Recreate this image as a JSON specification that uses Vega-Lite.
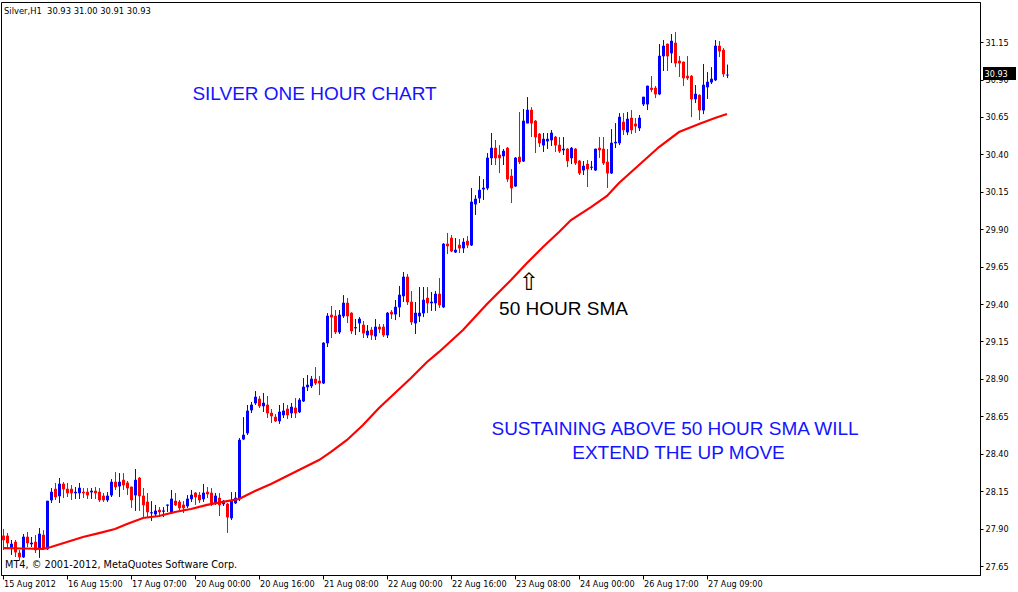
{
  "$schema": "https://vega.github.io/schema/vega-lite/v6.json",
  "width": 979,
  "height": 573,
  "autosize": "none",
  "padding": {"left": 1, "top": 2, "right": 38, "bottom": 17},
  "background": "white",
  "config": {
    "view": {"stroke": "#000000", "strokeWidth": 1},
    "scale": {"continuousPadding": 0},
    "axisX": {
      "labelAlign": "left", "labelBaseline": "top", "labelPadding": 0, "labelOffset": 0.5,
      "labelFont": "DejaVu Sans Condensed, DejaVu Sans", "labelFontSize": 9, "labelColor": "#000000",
      "labelOverlap": false, "labelFlush": false, "tickSize": 4, "tickColor": "#000000",
      "domainColor": "#000000", "grid": false
    },
    "axisY": {
      "labelAlign": "left", "labelBaseline": "middle", "labelPadding": 2,
      "labelFont": "DejaVu Sans Condensed, DejaVu Sans", "labelFontSize": 9, "labelColor": "#000000",
      "labelOverlap": false, "labelFlush": false, "tickSize": 3, "tickColor": "#000000",
      "domainColor": "#000000", "grid": false
    }
  },
  "datasets": {
    "bars": [
      {"i":0,"o":27.851,"h":27.897,"l":27.757,"c":27.824},
      {"i":1,"o":27.851,"h":27.871,"l":27.770,"c":27.804},
      {"i":2,"o":27.770,"h":27.824,"l":27.724,"c":27.797},
      {"i":3,"o":27.810,"h":27.824,"l":27.710,"c":27.743},
      {"i":4,"o":27.737,"h":27.757,"l":27.690,"c":27.710},
      {"i":5,"o":27.710,"h":27.864,"l":27.704,"c":27.844},
      {"i":6,"o":27.844,"h":27.877,"l":27.777,"c":27.804},
      {"i":7,"o":27.797,"h":27.844,"l":27.777,"c":27.804},
      {"i":8,"o":27.810,"h":27.857,"l":27.737,"c":27.757},
      {"i":9,"o":27.770,"h":27.904,"l":27.704,"c":27.864},
      {"i":10,"o":27.857,"h":27.890,"l":27.757,"c":27.770},
      {"i":11,"o":27.764,"h":28.084,"l":27.757,"c":28.084},
      {"i":12,"o":28.091,"h":28.171,"l":28.071,"c":28.144},
      {"i":13,"o":28.164,"h":28.205,"l":28.091,"c":28.111},
      {"i":14,"o":28.118,"h":28.238,"l":28.071,"c":28.198},
      {"i":15,"o":28.198,"h":28.211,"l":28.104,"c":28.164},
      {"i":16,"o":28.164,"h":28.205,"l":28.111,"c":28.138},
      {"i":17,"o":28.164,"h":28.191,"l":28.091,"c":28.138},
      {"i":18,"o":28.138,"h":28.178,"l":28.098,"c":28.144},
      {"i":19,"o":28.138,"h":28.205,"l":28.098,"c":28.171},
      {"i":20,"o":28.144,"h":28.171,"l":28.104,"c":28.138},
      {"i":21,"o":28.144,"h":28.171,"l":28.098,"c":28.124},
      {"i":22,"o":28.144,"h":28.171,"l":28.098,"c":28.151},
      {"i":23,"o":28.151,"h":28.178,"l":28.098,"c":28.138},
      {"i":24,"o":28.144,"h":28.171,"l":28.078,"c":28.091},
      {"i":25,"o":28.118,"h":28.138,"l":28.078,"c":28.091},
      {"i":26,"o":28.091,"h":28.144,"l":28.078,"c":28.118},
      {"i":27,"o":28.124,"h":28.231,"l":28.111,"c":28.211},
      {"i":28,"o":28.211,"h":28.278,"l":28.158,"c":28.178},
      {"i":29,"o":28.184,"h":28.271,"l":28.111,"c":28.211},
      {"i":30,"o":28.224,"h":28.271,"l":28.158,"c":28.191},
      {"i":31,"o":28.205,"h":28.218,"l":28.124,"c":28.171},
      {"i":32,"o":28.178,"h":28.180,"l":28.038,"c":28.091},
      {"i":33,"o":28.124,"h":28.298,"l":28.018,"c":28.224},
      {"i":34,"o":28.238,"h":28.245,"l":28.018,"c":28.118},
      {"i":35,"o":28.118,"h":28.171,"l":27.977,"c":28.058},
      {"i":36,"o":28.078,"h":28.138,"l":27.977,"c":28.011},
      {"i":37,"o":28.004,"h":28.084,"l":27.951,"c":28.006},
      {"i":38,"o":27.997,"h":28.058,"l":27.984,"c":28.018},
      {"i":39,"o":28.024,"h":28.044,"l":27.977,"c":28.011},
      {"i":40,"o":28.016,"h":28.044,"l":27.977,"c":28.018},
      {"i":41,"o":28.056,"h":28.058,"l":28.011,"c":28.058},
      {"i":42,"o":28.004,"h":28.158,"l":27.997,"c":28.098},
      {"i":43,"o":28.084,"h":28.138,"l":28.051,"c":28.058},
      {"i":44,"o":28.078,"h":28.091,"l":28.024,"c":28.038},
      {"i":45,"o":28.058,"h":28.084,"l":28.004,"c":28.038},
      {"i":46,"o":28.051,"h":28.124,"l":28.038,"c":28.098},
      {"i":47,"o":28.098,"h":28.158,"l":28.078,"c":28.124},
      {"i":48,"o":28.138,"h":28.144,"l":28.058,"c":28.111},
      {"i":49,"o":28.124,"h":28.144,"l":28.071,"c":28.091},
      {"i":50,"o":28.098,"h":28.198,"l":28.078,"c":28.138},
      {"i":51,"o":28.144,"h":28.178,"l":28.104,"c":28.131},
      {"i":52,"o":28.138,"h":28.171,"l":28.051,"c":28.071},
      {"i":53,"o":28.071,"h":28.138,"l":28.058,"c":28.118},
      {"i":54,"o":28.104,"h":28.138,"l":27.984,"c":28.058},
      {"i":55,"o":28.064,"h":28.091,"l":28.051,"c":28.084},
      {"i":56,"o":28.064,"h":28.071,"l":27.871,"c":27.977},
      {"i":57,"o":27.971,"h":28.144,"l":27.957,"c":28.084},
      {"i":58,"o":28.071,"h":28.144,"l":28.064,"c":28.104},
      {"i":59,"o":28.098,"h":28.505,"l":28.084,"c":28.491},
      {"i":60,"o":28.498,"h":28.645,"l":28.491,"c":28.525},
      {"i":61,"o":28.539,"h":28.726,"l":28.525,"c":28.686},
      {"i":62,"o":28.692,"h":28.746,"l":28.672,"c":28.726},
      {"i":63,"o":28.739,"h":28.819,"l":28.726,"c":28.779},
      {"i":64,"o":28.766,"h":28.786,"l":28.706,"c":28.719},
      {"i":65,"o":28.719,"h":28.806,"l":28.679,"c":28.739},
      {"i":66,"o":28.726,"h":28.786,"l":28.639,"c":28.672},
      {"i":67,"o":28.672,"h":28.699,"l":28.605,"c":28.652},
      {"i":68,"o":28.645,"h":28.665,"l":28.612,"c":28.619},
      {"i":69,"o":28.619,"h":28.726,"l":28.599,"c":28.679},
      {"i":70,"o":28.659,"h":28.739,"l":28.639,"c":28.686},
      {"i":71,"o":28.699,"h":28.726,"l":28.632,"c":28.659},
      {"i":72,"o":28.672,"h":28.739,"l":28.639,"c":28.712},
      {"i":73,"o":28.706,"h":28.772,"l":28.639,"c":28.672},
      {"i":74,"o":28.679,"h":28.772,"l":28.672,"c":28.759},
      {"i":75,"o":28.752,"h":28.906,"l":28.746,"c":28.846},
      {"i":76,"o":28.846,"h":28.926,"l":28.819,"c":28.859},
      {"i":77,"o":28.853,"h":28.919,"l":28.839,"c":28.899},
      {"i":78,"o":28.899,"h":28.979,"l":28.859,"c":28.872},
      {"i":79,"o":28.886,"h":28.919,"l":28.792,"c":28.872},
      {"i":80,"o":28.872,"h":29.145,"l":28.866,"c":29.140},
      {"i":81,"o":29.140,"h":29.340,"l":29.113,"c":29.320},
      {"i":82,"o":29.327,"h":29.387,"l":29.173,"c":29.313},
      {"i":83,"o":29.320,"h":29.360,"l":29.200,"c":29.213},
      {"i":84,"o":29.213,"h":29.360,"l":29.200,"c":29.327},
      {"i":85,"o":29.320,"h":29.460,"l":29.307,"c":29.407},
      {"i":86,"o":29.407,"h":29.440,"l":29.273,"c":29.320},
      {"i":87,"o":29.340,"h":29.345,"l":29.200,"c":29.220},
      {"i":88,"o":29.240,"h":29.300,"l":29.193,"c":29.243},
      {"i":89,"o":29.273,"h":29.313,"l":29.213,"c":29.300},
      {"i":90,"o":29.260,"h":29.287,"l":29.173,"c":29.206},
      {"i":91,"o":29.193,"h":29.260,"l":29.173,"c":29.220},
      {"i":92,"o":29.227,"h":29.247,"l":29.160,"c":29.193},
      {"i":93,"o":29.186,"h":29.300,"l":29.160,"c":29.247},
      {"i":94,"o":29.247,"h":29.267,"l":29.206,"c":29.233},
      {"i":95,"o":29.247,"h":29.267,"l":29.180,"c":29.193},
      {"i":96,"o":29.193,"h":29.347,"l":29.173,"c":29.340},
      {"i":97,"o":29.347,"h":29.360,"l":29.300,"c":29.333},
      {"i":98,"o":29.333,"h":29.427,"l":29.293,"c":29.380},
      {"i":99,"o":29.380,"h":29.521,"l":29.313,"c":29.460},
      {"i":100,"o":29.454,"h":29.614,"l":29.414,"c":29.581},
      {"i":101,"o":29.581,"h":29.601,"l":29.394,"c":29.414},
      {"i":102,"o":29.414,"h":29.487,"l":29.260,"c":29.280},
      {"i":103,"o":29.273,"h":29.414,"l":29.200,"c":29.340},
      {"i":104,"o":29.320,"h":29.514,"l":29.280,"c":29.340},
      {"i":105,"o":29.340,"h":29.514,"l":29.313,"c":29.427},
      {"i":106,"o":29.440,"h":29.514,"l":29.340,"c":29.407},
      {"i":107,"o":29.407,"h":29.481,"l":29.354,"c":29.414},
      {"i":108,"o":29.407,"h":29.487,"l":29.354,"c":29.467},
      {"i":109,"o":29.467,"h":29.574,"l":29.374,"c":29.394},
      {"i":110,"o":29.380,"h":29.807,"l":29.374,"c":29.801},
      {"i":111,"o":29.801,"h":29.875,"l":29.734,"c":29.788},
      {"i":112,"o":29.841,"h":29.861,"l":29.747,"c":29.754},
      {"i":113,"o":29.747,"h":29.841,"l":29.741,"c":29.761},
      {"i":114,"o":29.794,"h":29.834,"l":29.741,"c":29.774},
      {"i":115,"o":29.774,"h":29.841,"l":29.741,"c":29.814},
      {"i":116,"o":29.821,"h":29.854,"l":29.774,"c":29.794},
      {"i":117,"o":29.794,"h":30.175,"l":29.788,"c":30.082},
      {"i":118,"o":30.068,"h":30.128,"l":29.995,"c":30.102},
      {"i":119,"o":30.108,"h":30.255,"l":30.075,"c":30.161},
      {"i":120,"o":30.168,"h":30.235,"l":30.095,"c":30.175},
      {"i":121,"o":30.175,"h":30.409,"l":30.161,"c":30.376},
      {"i":122,"o":30.376,"h":30.543,"l":30.329,"c":30.442},
      {"i":123,"o":30.442,"h":30.496,"l":30.329,"c":30.376},
      {"i":124,"o":30.396,"h":30.462,"l":30.275,"c":30.376},
      {"i":125,"o":30.389,"h":30.436,"l":30.329,"c":30.422},
      {"i":126,"o":30.442,"h":30.449,"l":30.215,"c":30.235},
      {"i":127,"o":30.255,"h":30.302,"l":30.075,"c":30.175},
      {"i":128,"o":30.188,"h":30.382,"l":30.182,"c":30.376},
      {"i":129,"o":30.382,"h":30.683,"l":30.335,"c":30.349},
      {"i":130,"o":30.355,"h":30.703,"l":30.349,"c":30.623},
      {"i":131,"o":30.609,"h":30.783,"l":30.609,"c":30.696},
      {"i":132,"o":30.696,"h":30.716,"l":30.516,"c":30.609},
      {"i":133,"o":30.623,"h":30.630,"l":30.409,"c":30.516},
      {"i":134,"o":30.536,"h":30.543,"l":30.449,"c":30.476},
      {"i":135,"o":30.462,"h":30.543,"l":30.416,"c":30.502},
      {"i":136,"o":30.489,"h":30.543,"l":30.436,"c":30.502},
      {"i":137,"o":30.496,"h":30.563,"l":30.456,"c":30.543},
      {"i":138,"o":30.516,"h":30.523,"l":30.416,"c":30.462},
      {"i":139,"o":30.462,"h":30.516,"l":30.409,"c":30.422},
      {"i":140,"o":30.429,"h":30.516,"l":30.396,"c":30.436},
      {"i":141,"o":30.436,"h":30.442,"l":30.315,"c":30.356},
      {"i":142,"o":30.376,"h":30.449,"l":30.335,"c":30.442},
      {"i":143,"o":30.436,"h":30.442,"l":30.329,"c":30.342},
      {"i":144,"o":30.356,"h":30.362,"l":30.262,"c":30.275},
      {"i":145,"o":30.295,"h":30.356,"l":30.262,"c":30.322},
      {"i":146,"o":30.335,"h":30.362,"l":30.182,"c":30.302},
      {"i":147,"o":30.313,"h":30.356,"l":30.295,"c":30.315},
      {"i":148,"o":30.295,"h":30.436,"l":30.289,"c":30.436},
      {"i":149,"o":30.442,"h":30.516,"l":30.376,"c":30.429},
      {"i":150,"o":30.436,"h":30.516,"l":30.329,"c":30.342},
      {"i":151,"o":30.349,"h":30.436,"l":30.175,"c":30.275},
      {"i":152,"o":30.275,"h":30.569,"l":30.269,"c":30.476},
      {"i":153,"o":30.476,"h":30.609,"l":30.442,"c":30.482},
      {"i":154,"o":30.476,"h":30.676,"l":30.462,"c":30.649},
      {"i":155,"o":30.616,"h":30.676,"l":30.529,"c":30.563},
      {"i":156,"o":30.549,"h":30.683,"l":30.529,"c":30.636},
      {"i":157,"o":30.643,"h":30.696,"l":30.536,"c":30.563},
      {"i":158,"o":30.603,"h":30.643,"l":30.543,"c":30.589},
      {"i":159,"o":30.576,"h":30.663,"l":30.556,"c":30.643},
      {"i":160,"o":30.736,"h":30.783,"l":30.723,"c":30.783},
      {"i":161,"o":30.736,"h":30.857,"l":30.696,"c":30.857},
      {"i":162,"o":30.843,"h":30.923,"l":30.816,"c":30.833},
      {"i":163,"o":30.843,"h":30.857,"l":30.776,"c":30.803},
      {"i":164,"o":30.803,"h":31.137,"l":30.796,"c":31.057},
      {"i":165,"o":31.057,"h":31.164,"l":30.957,"c":31.124},
      {"i":166,"o":31.137,"h":31.140,"l":30.957,"c":31.057},
      {"i":167,"o":31.077,"h":31.204,"l":31.010,"c":31.157},
      {"i":168,"o":31.144,"h":31.217,"l":30.983,"c":31.010},
      {"i":169,"o":31.024,"h":31.057,"l":30.917,"c":31.010},
      {"i":170,"o":31.017,"h":31.020,"l":30.857,"c":30.910},
      {"i":171,"o":30.923,"h":31.057,"l":30.897,"c":30.910},
      {"i":172,"o":30.923,"h":30.930,"l":30.649,"c":30.770},
      {"i":173,"o":30.770,"h":30.863,"l":30.743,"c":30.803},
      {"i":174,"o":30.796,"h":30.800,"l":30.629,"c":30.696},
      {"i":175,"o":30.696,"h":31.004,"l":30.669,"c":30.863},
      {"i":176,"o":30.850,"h":30.950,"l":30.770,"c":30.883},
      {"i":177,"o":30.883,"h":30.983,"l":30.870,"c":30.903},
      {"i":178,"o":30.897,"h":31.164,"l":30.890,"c":31.124},
      {"i":179,"o":31.124,"h":31.157,"l":31.050,"c":31.090},
      {"i":180,"o":31.097,"h":31.110,"l":30.917,"c":30.937},
      {"i":181,"o":30.93,"h":31.00,"l":30.91,"c":30.93}
    ],
    "sma": [
      {"i":0,"s":27.770},{"i":5,"s":27.767},{"i":10,"s":27.764},{"i":12,"s":27.777},
      {"i":16,"s":27.810},{"i":20,"s":27.844},{"i":24,"s":27.870},{"i":28,"s":27.897},
      {"i":31,"s":27.931},{"i":35,"s":27.971},{"i":39,"s":27.984},{"i":43,"s":28.011},
      {"i":47,"s":28.031},{"i":51,"s":28.058},{"i":55,"s":28.078},{"i":59,"s":28.098},
      {"i":63,"s":28.151},{"i":67,"s":28.198},{"i":71,"s":28.251},{"i":75,"s":28.305},
      {"i":79,"s":28.358},{"i":82,"s":28.412},{"i":86,"s":28.492},{"i":90,"s":28.592},
      {"i":94,"s":28.706},{"i":98,"s":28.806},{"i":102,"s":28.906},{"i":106,"s":29.013},
      {"i":109,"s":29.080},{"i":112,"s":29.153},{"i":115,"s":29.227},{"i":118,"s":29.313},
      {"i":121,"s":29.400},{"i":123,"s":29.454},{"i":127,"s":29.561},{"i":131,"s":29.674},
      {"i":135,"s":29.781},{"i":139,"s":29.881},{"i":142,"s":29.961},{"i":147,"s":30.048},
      {"i":151,"s":30.122},{"i":154,"s":30.209},{"i":159,"s":30.329},{"i":164,"s":30.449},
      {"i":169,"s":30.549},{"i":174,"s":30.603},{"i":178,"s":30.643},{"i":181,"s":30.670}
    ]
  },
  "layer": [
    {
      "data": {"name": "bars"},
      "mark": {"type": "rule", "strokeWidth": 1, "xOffset": 0.5},
      "encoding": {
        "x": {"field": "i", "type": "quantitative", "scale": {"domain": [-0.5, 244.25], "nice": false, "zero": false, "padding": 0},
          "axis": {"orient": "bottom", "title": null, "values": [0, 16, 32, 48, 64, 80, 96, 112, 128, 144, 160, 176],
            "labelExpr": "['15 Aug 2012','16 Aug 15:00','17 Aug 07:00','20 Aug 00:00','20 Aug 16:00','21 Aug 08:00','22 Aug 00:00','22 Aug 16:00','23 Aug 08:00','24 Aug 00:00','26 Aug 17:00','27 Aug 09:00'][round(datum.value/16)]"}},
        "y": {"field": "l", "type": "quantitative", "scale": {"domain": [27.59, 31.418], "nice": false, "zero": false},
          "axis": {"orient": "right", "title": null, "format": ".2f", "values": [27.65, 27.9, 28.15, 28.4, 28.65, 28.9, 29.15, 29.4, 29.65, 29.9, 30.15, 30.4, 30.65, 30.9, 31.15]}},
        "y2": {"field": "h"},
        "color": {"condition": {"test": "datum.c >= datum.o", "value": "#0000ff"}, "value": "#ff0000"}
      }
    },
    {
      "data": {"name": "bars"},
      "mark": {"type": "bar", "size": 2, "strokeWidth": 1, "xOffset": 0.5},
      "encoding": {
        "x": {"field": "i", "type": "quantitative", "scale": {"domain": [-0.5, 244.25], "nice": false, "zero": false, "padding": 0},
          "axis": {"orient": "bottom", "title": null, "values": [0, 16, 32, 48, 64, 80, 96, 112, 128, 144, 160, 176],
            "labelExpr": "['15 Aug 2012','16 Aug 15:00','17 Aug 07:00','20 Aug 00:00','20 Aug 16:00','21 Aug 08:00','22 Aug 00:00','22 Aug 16:00','23 Aug 08:00','24 Aug 00:00','26 Aug 17:00','27 Aug 09:00'][round(datum.value/16)]"}},
        "y": {"field": "o", "type": "quantitative", "scale": {"domain": [27.59, 31.418], "nice": false, "zero": false},
          "axis": {"orient": "right", "title": null, "format": ".2f", "values": [27.65, 27.9, 28.15, 28.4, 28.65, 28.9, 29.15, 29.4, 29.65, 29.9, 30.15, 30.4, 30.65, 30.9, 31.15]}},
        "y2": {"field": "c"},
        "fill": {"condition": {"test": "datum.c >= datum.o", "value": "#0000ff"}, "value": "#ff0000"},
        "stroke": {"condition": {"test": "datum.c >= datum.o", "value": "#0000ff"}, "value": "#ff0000"}
      }
    },
    {
      "data": {"name": "sma"},
      "mark": {"type": "line", "color": "#ff0000", "strokeWidth": 2.2},
      "encoding": {
        "x": {"field": "i", "type": "quantitative", "scale": {"domain": [-0.5, 244.25], "nice": false, "zero": false, "padding": 0},
          "axis": {"orient": "bottom", "title": null, "values": [0, 16, 32, 48, 64, 80, 96, 112, 128, 144, 160, 176],
            "labelExpr": "['15 Aug 2012','16 Aug 15:00','17 Aug 07:00','20 Aug 00:00','20 Aug 16:00','21 Aug 08:00','22 Aug 00:00','22 Aug 16:00','23 Aug 08:00','24 Aug 00:00','26 Aug 17:00','27 Aug 09:00'][round(datum.value/16)]"}},
        "y": {"field": "s", "type": "quantitative", "scale": {"domain": [27.59, 31.418], "nice": false, "zero": false},
          "axis": {"orient": "right", "title": null, "format": ".2f", "values": [27.65, 27.9, 28.15, 28.4, 28.65, 28.9, 29.15, 29.4, 29.65, 29.9, 30.15, 30.4, 30.65, 30.9, 31.15]}}
      }
    },
    {
      "data": {"values": [{}]},
      "mark": {"type": "rect", "color": "#000000"},
      "encoding": {
        "x": {"datum": 245, "type": "quantitative", "scale": {"domain": [-0.5, 244.25], "nice": false, "zero": false, "padding": 0},
          "axis": {"orient": "bottom", "title": null, "values": [0, 16, 32, 48, 64, 80, 96, 112, 128, 144, 160, 176],
            "labelExpr": "['15 Aug 2012','16 Aug 15:00','17 Aug 07:00','20 Aug 00:00','20 Aug 16:00','21 Aug 08:00','22 Aug 00:00','22 Aug 16:00','23 Aug 08:00','24 Aug 00:00','26 Aug 17:00','27 Aug 09:00'][round(datum.value/16)]"}},
        "x2": {"datum": 253.25},
        "y": {"datum": 30.983, "type": "quantitative", "scale": {"domain": [27.59, 31.418], "nice": false, "zero": false},
          "axis": {"orient": "right", "title": null, "format": ".2f", "values": [27.65, 27.9, 28.15, 28.4, 28.65, 28.9, 29.15, 29.4, 29.65, 29.9, 30.15, 30.4, 30.65, 30.9, 31.15]}},
        "y2": {"datum": 30.897}
      }
    },
    {
      "data": {"values": [{}]},
      "mark": {"type": "text", "align": "left", "baseline": "middle", "font": "DejaVu Sans Condensed, DejaVu Sans", "fontSize": 9, "color": "#ffffff"},
      "encoding": {
        "x": {"datum": 245.4, "type": "quantitative", "scale": {"domain": [-0.5, 244.25], "nice": false, "zero": false, "padding": 0},
          "axis": {"orient": "bottom", "title": null, "values": [0, 16, 32, 48, 64, 80, 96, 112, 128, 144, 160, 176],
            "labelExpr": "['15 Aug 2012','16 Aug 15:00','17 Aug 07:00','20 Aug 00:00','20 Aug 16:00','21 Aug 08:00','22 Aug 00:00','22 Aug 16:00','23 Aug 08:00','24 Aug 00:00','26 Aug 17:00','27 Aug 09:00'][round(datum.value/16)]"}},
        "y": {"datum": 30.94, "type": "quantitative", "scale": {"domain": [27.59, 31.418], "nice": false, "zero": false},
          "axis": {"orient": "right", "title": null, "format": ".2f", "values": [27.65, 27.9, 28.15, 28.4, 28.65, 28.9, 29.15, 29.4, 29.65, 29.9, 30.15, 30.4, 30.65, 30.9, 31.15]}},
        "text": {"value": "30.93"}
      }
    },
    {
      "data": {"values": [{}]},
      "mark": {"type": "text", "align": "left", "baseline": "alphabetic", "font": "DejaVu Sans Condensed, DejaVu Sans", "fontSize": 9.3, "color": "#000000"},
      "encoding": {
        "x": {"datum": 0.25, "type": "quantitative", "scale": {"domain": [-0.5, 244.25], "nice": false, "zero": false, "padding": 0},
          "axis": {"orient": "bottom", "title": null, "values": [0, 16, 32, 48, 64, 80, 96, 112, 128, 144, 160, 176],
            "labelExpr": "['15 Aug 2012','16 Aug 15:00','17 Aug 07:00','20 Aug 00:00','20 Aug 16:00','21 Aug 08:00','22 Aug 00:00','22 Aug 16:00','23 Aug 08:00','24 Aug 00:00','26 Aug 17:00','27 Aug 09:00'][round(datum.value/16)]"}},
        "y": {"datum": 31.337, "type": "quantitative", "scale": {"domain": [27.59, 31.418], "nice": false, "zero": false},
          "axis": {"orient": "right", "title": null, "format": ".2f", "values": [27.65, 27.9, 28.15, 28.4, 28.65, 28.9, 29.15, 29.4, 29.65, 29.9, 30.15, 30.4, 30.65, 30.9, 31.15]}},
        "text": {"value": "Silver,H1\u00a0 30.93 31.00 30.91 30.93"}
      }
    },
    {
      "data": {"values": [{}]},
      "mark": {"type": "text", "align": "left", "baseline": "alphabetic", "font": "DejaVu Sans Condensed, DejaVu Sans", "fontSize": 10.8, "color": "#000000"},
      "encoding": {
        "x": {"datum": 0.5, "type": "quantitative", "scale": {"domain": [-0.5, 244.25], "nice": false, "zero": false, "padding": 0},
          "axis": {"orient": "bottom", "title": null, "values": [0, 16, 32, 48, 64, 80, 96, 112, 128, 144, 160, 176],
            "labelExpr": "['15 Aug 2012','16 Aug 15:00','17 Aug 07:00','20 Aug 00:00','20 Aug 16:00','21 Aug 08:00','22 Aug 00:00','22 Aug 16:00','23 Aug 08:00','24 Aug 00:00','26 Aug 17:00','27 Aug 09:00'][round(datum.value/16)]"}},
        "y": {"datum": 27.637, "type": "quantitative", "scale": {"domain": [27.59, 31.418], "nice": false, "zero": false},
          "axis": {"orient": "right", "title": null, "format": ".2f", "values": [27.65, 27.9, 28.15, 28.4, 28.65, 28.9, 29.15, 29.4, 29.65, 29.9, 30.15, 30.4, 30.65, 30.9, 31.15]}},
        "text": {"value": "MT4, © 2001-2012, MetaQuotes Software Corp."}
      }
    },
    {
      "data": {"values": [{}]},
      "mark": {"type": "text", "align": "center", "baseline": "alphabetic", "font": "Liberation Sans", "fontSize": 19, "color": "#1414ff"},
      "encoding": {
        "x": {"datum": 77.875, "type": "quantitative", "scale": {"domain": [-0.5, 244.25], "nice": false, "zero": false, "padding": 0},
          "axis": {"orient": "bottom", "title": null, "values": [0, 16, 32, 48, 64, 80, 96, 112, 128, 144, 160, 176],
            "labelExpr": "['15 Aug 2012','16 Aug 15:00','17 Aug 07:00','20 Aug 00:00','20 Aug 16:00','21 Aug 08:00','22 Aug 00:00','22 Aug 16:00','23 Aug 08:00','24 Aug 00:00','26 Aug 17:00','27 Aug 09:00'][round(datum.value/16)]"}},
        "y": {"datum": 30.763, "type": "quantitative", "scale": {"domain": [27.59, 31.418], "nice": false, "zero": false},
          "axis": {"orient": "right", "title": null, "format": ".2f", "values": [27.65, 27.9, 28.15, 28.4, 28.65, 28.9, 29.15, 29.4, 29.65, 29.9, 30.15, 30.4, 30.65, 30.9, 31.15]}},
        "text": {"value": "SILVER ONE HOUR CHART"}
      }
    },
    {
      "data": {"values": [{}]},
      "mark": {"type": "text", "align": "center", "baseline": "alphabetic", "font": "Liberation Sans", "fontSize": 19, "color": "#000000"},
      "encoding": {
        "x": {"datum": 140.125, "type": "quantitative", "scale": {"domain": [-0.5, 244.25], "nice": false, "zero": false, "padding": 0},
          "axis": {"orient": "bottom", "title": null, "values": [0, 16, 32, 48, 64, 80, 96, 112, 128, 144, 160, 176],
            "labelExpr": "['15 Aug 2012','16 Aug 15:00','17 Aug 07:00','20 Aug 00:00','20 Aug 16:00','21 Aug 08:00','22 Aug 00:00','22 Aug 16:00','23 Aug 08:00','24 Aug 00:00','26 Aug 17:00','27 Aug 09:00'][round(datum.value/16)]"}},
        "y": {"datum": 29.327, "type": "quantitative", "scale": {"domain": [27.59, 31.418], "nice": false, "zero": false},
          "axis": {"orient": "right", "title": null, "format": ".2f", "values": [27.65, 27.9, 28.15, 28.4, 28.65, 28.9, 29.15, 29.4, 29.65, 29.9, 30.15, 30.4, 30.65, 30.9, 31.15]}},
        "text": {"value": "50 HOUR SMA"}
      }
    },
    {
      "data": {"values": [{}]},
      "mark": {"type": "text", "align": "center", "baseline": "alphabetic", "font": "DejaVu Sans", "fontSize": 24, "color": "#000000"},
      "encoding": {
        "x": {"datum": 131.5, "type": "quantitative", "scale": {"domain": [-0.5, 244.25], "nice": false, "zero": false, "padding": 0},
          "axis": {"orient": "bottom", "title": null, "values": [0, 16, 32, 48, 64, 80, 96, 112, 128, 144, 160, 176],
            "labelExpr": "['15 Aug 2012','16 Aug 15:00','17 Aug 07:00','20 Aug 00:00','20 Aug 16:00','21 Aug 08:00','22 Aug 00:00','22 Aug 16:00','23 Aug 08:00','24 Aug 00:00','26 Aug 17:00','27 Aug 09:00'][round(datum.value/16)]"}},
        "y": {"datum": 29.494, "type": "quantitative", "scale": {"domain": [27.59, 31.418], "nice": false, "zero": false},
          "axis": {"orient": "right", "title": null, "format": ".2f", "values": [27.65, 27.9, 28.15, 28.4, 28.65, 28.9, 29.15, 29.4, 29.65, 29.9, 30.15, 30.4, 30.65, 30.9, 31.15]}},
        "text": {"value": "⇧"}
      }
    },
    {
      "data": {"values": [{}]},
      "mark": {"type": "text", "align": "center", "baseline": "alphabetic", "font": "Liberation Sans", "fontSize": 19, "color": "#1414ff"},
      "encoding": {
        "x": {"datum": 168, "type": "quantitative", "scale": {"domain": [-0.5, 244.25], "nice": false, "zero": false, "padding": 0},
          "axis": {"orient": "bottom", "title": null, "values": [0, 16, 32, 48, 64, 80, 96, 112, 128, 144, 160, 176],
            "labelExpr": "['15 Aug 2012','16 Aug 15:00','17 Aug 07:00','20 Aug 00:00','20 Aug 16:00','21 Aug 08:00','22 Aug 00:00','22 Aug 16:00','23 Aug 08:00','24 Aug 00:00','26 Aug 17:00','27 Aug 09:00'][round(datum.value/16)]"}},
        "y": {"datum": 28.525, "type": "quantitative", "scale": {"domain": [27.59, 31.418], "nice": false, "zero": false},
          "axis": {"orient": "right", "title": null, "format": ".2f", "values": [27.65, 27.9, 28.15, 28.4, 28.65, 28.9, 29.15, 29.4, 29.65, 29.9, 30.15, 30.4, 30.65, 30.9, 31.15]}},
        "text": {"value": "SUSTAINING ABOVE 50 HOUR SMA WILL"}
      }
    },
    {
      "data": {"values": [{}]},
      "mark": {"type": "text", "align": "center", "baseline": "alphabetic", "font": "Liberation Sans", "fontSize": 19, "color": "#1414ff"},
      "encoding": {
        "x": {"datum": 168.875, "type": "quantitative", "scale": {"domain": [-0.5, 244.25], "nice": false, "zero": false, "padding": 0},
          "axis": {"orient": "bottom", "title": null, "values": [0, 16, 32, 48, 64, 80, 96, 112, 128, 144, 160, 176],
            "labelExpr": "['15 Aug 2012','16 Aug 15:00','17 Aug 07:00','20 Aug 00:00','20 Aug 16:00','21 Aug 08:00','22 Aug 00:00','22 Aug 16:00','23 Aug 08:00','24 Aug 00:00','26 Aug 17:00','27 Aug 09:00'][round(datum.value/16)]"}},
        "y": {"datum": 28.365, "type": "quantitative", "scale": {"domain": [27.59, 31.418], "nice": false, "zero": false},
          "axis": {"orient": "right", "title": null, "format": ".2f", "values": [27.65, 27.9, 28.15, 28.4, 28.65, 28.9, 29.15, 29.4, 29.65, 29.9, 30.15, 30.4, 30.65, 30.9, 31.15]}},
        "text": {"value": "EXTEND THE UP MOVE"}
      }
    }
  ]
}
